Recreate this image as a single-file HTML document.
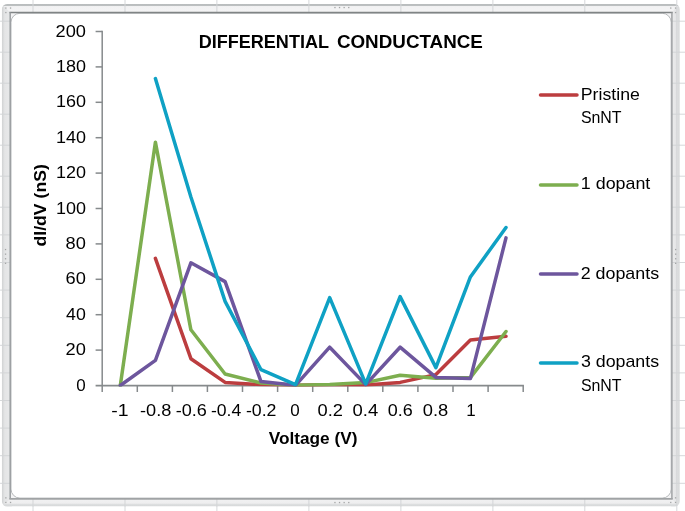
<!DOCTYPE html>
<html><head><meta charset="utf-8"><title>Differential Conductance</title>
<style>html,body{margin:0;padding:0;background:#fff;}body{width:685px;height:511px;overflow:hidden;}svg{display:block;filter:blur(0.4px);}text{font-family:"Liberation Sans",sans-serif;fill:#000000;}</style>
</head><body>
<svg width="685" height="511" viewBox="0 0 685 511">
<rect width="685" height="511" fill="#ffffff"/>
<g stroke="#d6d8da" stroke-width="1">
<line x1="33.0" y1="0" x2="33.0" y2="511"/>
<line x1="125.0" y1="0" x2="125.0" y2="511"/>
<line x1="216.9" y1="0" x2="216.9" y2="511"/>
<line x1="308.9" y1="0" x2="308.9" y2="511"/>
<line x1="400.9" y1="0" x2="400.9" y2="511"/>
<line x1="492.9" y1="0" x2="492.9" y2="511"/>
<line x1="584.8" y1="0" x2="584.8" y2="511"/>
<line x1="676.8" y1="0" x2="676.8" y2="511"/>
<line x1="0" y1="21.2" x2="685" y2="21.2"/>
<line x1="0" y1="52.2" x2="685" y2="52.2"/>
<line x1="0" y1="83.2" x2="685" y2="83.2"/>
<line x1="0" y1="114.2" x2="685" y2="114.2"/>
<line x1="0" y1="145.2" x2="685" y2="145.2"/>
<line x1="0" y1="176.2" x2="685" y2="176.2"/>
<line x1="0" y1="207.2" x2="685" y2="207.2"/>
<line x1="0" y1="234.9" x2="685" y2="234.9"/>
<line x1="0" y1="262.5" x2="685" y2="262.5"/>
<line x1="0" y1="290.1" x2="685" y2="290.1"/>
<line x1="0" y1="317.7" x2="685" y2="317.7"/>
<line x1="0" y1="345.3" x2="685" y2="345.3"/>
<line x1="0" y1="372.9" x2="685" y2="372.9"/>
<line x1="0" y1="400.5" x2="685" y2="400.5"/>
<line x1="0" y1="428.1" x2="685" y2="428.1"/>
<line x1="0" y1="455.7" x2="685" y2="455.7"/>
<line x1="0" y1="483.3" x2="685" y2="483.3"/>
</g>
<defs>
<linearGradient id="gl" x1="0" x2="1" y1="0" y2="0"><stop offset="0" stop-color="#cfd1d2"/><stop offset="0.3" stop-color="#e4e5e6"/><stop offset="1" stop-color="#e9eaeb"/></linearGradient>
<linearGradient id="gr" x1="0" x2="1" y1="0" y2="0"><stop offset="0" stop-color="#eeeeef"/><stop offset="0.6" stop-color="#e4e5e6"/><stop offset="1" stop-color="#d4d6d7"/></linearGradient>
<linearGradient id="gt" x1="0" x2="0" y1="0" y2="1"><stop offset="0" stop-color="#b9bdbe"/><stop offset="0.22" stop-color="#bdc0c1"/><stop offset="0.3" stop-color="#f2f2f3"/><stop offset="1" stop-color="#f4f4f5"/></linearGradient>
<linearGradient id="gb" x1="0" x2="0" y1="0" y2="1"><stop offset="0" stop-color="#f1f1f2"/><stop offset="0.55" stop-color="#eeeeef"/><stop offset="0.75" stop-color="#dadcdd"/><stop offset="1" stop-color="#d6d8d9"/></linearGradient>
<clipPath id="cf"><rect x="1.8" y="4" width="678" height="502.6" rx="5.5" ry="5.5"/></clipPath>
</defs>
<g clip-path="url(#cf)">
<rect x="1.8" y="4" width="10" height="503" fill="url(#gl)"/>
<rect x="671" y="4" width="8.8" height="503" fill="url(#gr)"/>
<polygon points="1.8,4 679.8,4 671.5,12.4 10.2,12.4" fill="url(#gt)"/>
<polygon points="10.2,498.9 671.5,498.9 679.8,506.6 1.8,506.6" fill="url(#gb)"/>
</g>
<g stroke="#d3d5d7" stroke-width="1" clip-path="url(#cf)">
<line x1="33.0" y1="0" x2="33.0" y2="511"/>
<line x1="125.0" y1="0" x2="125.0" y2="511"/>
<line x1="216.9" y1="0" x2="216.9" y2="511"/>
<line x1="308.9" y1="0" x2="308.9" y2="511"/>
<line x1="400.9" y1="0" x2="400.9" y2="511"/>
<line x1="492.9" y1="0" x2="492.9" y2="511"/>
<line x1="584.8" y1="0" x2="584.8" y2="511"/>
<line x1="676.8" y1="0" x2="676.8" y2="511"/>
<line x1="0" y1="21.2" x2="685" y2="21.2"/>
<line x1="0" y1="52.2" x2="685" y2="52.2"/>
<line x1="0" y1="83.2" x2="685" y2="83.2"/>
<line x1="0" y1="114.2" x2="685" y2="114.2"/>
<line x1="0" y1="145.2" x2="685" y2="145.2"/>
<line x1="0" y1="176.2" x2="685" y2="176.2"/>
<line x1="0" y1="207.2" x2="685" y2="207.2"/>
<line x1="0" y1="234.9" x2="685" y2="234.9"/>
<line x1="0" y1="262.5" x2="685" y2="262.5"/>
<line x1="0" y1="290.1" x2="685" y2="290.1"/>
<line x1="0" y1="317.7" x2="685" y2="317.7"/>
<line x1="0" y1="345.3" x2="685" y2="345.3"/>
<line x1="0" y1="372.9" x2="685" y2="372.9"/>
<line x1="0" y1="400.5" x2="685" y2="400.5"/>
<line x1="0" y1="428.1" x2="685" y2="428.1"/>
<line x1="0" y1="455.7" x2="685" y2="455.7"/>
<line x1="0" y1="483.3" x2="685" y2="483.3"/>
</g>
<rect x="10.2" y="12.4" width="661.7" height="486.5" fill="#f3f3f4"/>
<rect x="11" y="13.3" width="660.2" height="484.8" rx="9" ry="9" fill="#ffffff" stroke="#aeb1b3" stroke-width="0.9"/>
<line x1="9.4" y1="12.5" x2="672.7" y2="12.5" stroke="#808485" stroke-width="1.5"/>
<line x1="10.2" y1="12.4" x2="10.2" y2="499" stroke="#9a9ea1" stroke-width="1.5"/>
<line x1="671.9" y1="12.4" x2="671.9" y2="499" stroke="#a0a3a5" stroke-width="1.5"/>
<line x1="9.4" y1="498.9" x2="672.7" y2="498.9" stroke="#a0a3a5" stroke-width="1.6"/>
<g fill="#a3a5a6">
<rect x="5.2" y="7.4" width="1.3" height="1.3"/>
<rect x="9.9" y="7.4" width="1.3" height="1.3"/>
<rect x="5.2" y="11.9" width="1.3" height="1.3"/>
<rect x="674.9" y="7.4" width="1.3" height="1.3"/>
<rect x="670.1" y="7.4" width="1.3" height="1.3"/>
<rect x="674.9" y="11.9" width="1.3" height="1.3"/>
<rect x="5.2" y="501.8" width="1.3" height="1.3"/>
<rect x="9.9" y="501.8" width="1.3" height="1.3"/>
<rect x="5.2" y="497.2" width="1.3" height="1.3"/>
<rect x="674.9" y="501.8" width="1.3" height="1.3"/>
<rect x="670.1" y="501.8" width="1.3" height="1.3"/>
<rect x="674.9" y="497.2" width="1.3" height="1.3"/>
<rect x="334.3" y="6.9" width="1.3" height="1.3"/>
<rect x="334.3" y="501.9" width="1.3" height="1.3"/>
<rect x="4.9" y="248.9" width="1.3" height="1.3"/>
<rect x="675" y="248.9" width="1.3" height="1.3"/>
<rect x="338.9" y="6.9" width="1.3" height="1.3"/>
<rect x="338.9" y="501.9" width="1.3" height="1.3"/>
<rect x="4.9" y="253.5" width="1.3" height="1.3"/>
<rect x="675" y="253.5" width="1.3" height="1.3"/>
<rect x="343.5" y="6.9" width="1.3" height="1.3"/>
<rect x="343.5" y="501.9" width="1.3" height="1.3"/>
<rect x="4.9" y="258.1" width="1.3" height="1.3"/>
<rect x="675" y="258.1" width="1.3" height="1.3"/>
<rect x="348.1" y="6.9" width="1.3" height="1.3"/>
<rect x="348.1" y="501.9" width="1.3" height="1.3"/>
<rect x="4.9" y="262.7" width="1.3" height="1.3"/>
<rect x="675" y="262.7" width="1.3" height="1.3"/>
</g>
<g stroke="#868a8c" stroke-width="1.5" fill="none">
<line x1="102.2" y1="30.8" x2="102.2" y2="392"/>
<line x1="95.6" y1="385.6" x2="523.9" y2="385.6" stroke-width="1.6"/>
<line x1="95.6" y1="350.1" x2="102.2" y2="350.1"/>
<line x1="95.6" y1="314.7" x2="102.2" y2="314.7"/>
<line x1="95.6" y1="279.3" x2="102.2" y2="279.3"/>
<line x1="95.6" y1="243.9" x2="102.2" y2="243.9"/>
<line x1="95.6" y1="208.5" x2="102.2" y2="208.5"/>
<line x1="95.6" y1="173.1" x2="102.2" y2="173.1"/>
<line x1="95.6" y1="137.7" x2="102.2" y2="137.7"/>
<line x1="95.6" y1="102.3" x2="102.2" y2="102.3"/>
<line x1="95.6" y1="66.9" x2="102.2" y2="66.9"/>
<line x1="95.6" y1="31.5" x2="102.2" y2="31.5"/>
<line x1="137.3" y1="385.5" x2="137.3" y2="392"/>
<line x1="172.4" y1="385.5" x2="172.4" y2="392"/>
<line x1="207.4" y1="385.5" x2="207.4" y2="392"/>
<line x1="242.5" y1="385.5" x2="242.5" y2="392"/>
<line x1="277.6" y1="385.5" x2="277.6" y2="392"/>
<line x1="312.7" y1="385.5" x2="312.7" y2="392"/>
<line x1="347.8" y1="385.5" x2="347.8" y2="392"/>
<line x1="382.8" y1="385.5" x2="382.8" y2="392"/>
<line x1="417.9" y1="385.5" x2="417.9" y2="392"/>
<line x1="453.0" y1="385.5" x2="453.0" y2="392"/>
<line x1="488.1" y1="385.5" x2="488.1" y2="392"/>
<line x1="523.2" y1="385.5" x2="523.2" y2="392"/>
</g>
<clipPath id="cp"><rect x="90" y="20" width="450" height="366.4"/></clipPath>
<g clip-path="url(#cp)">
<polyline points="155.4,258.3 190.9,358.7 225.1,382.4 261.0,384.6 295.5,385.3 329.7,384.8 365.7,385.0 400.1,382.4 435.9,374.6 470.4,340.1 506.0,336.3" fill="none" stroke="#bc3d3f" stroke-width="3.5" stroke-linejoin="round" stroke-linecap="round"/>
<polyline points="120.3,385.5 155.4,142.2 190.9,329.8 225.1,374.0 261.0,383.0 295.5,385.3 329.7,384.5 365.7,382.6 400.1,375.2 435.9,378.2 470.4,377.6 506.0,331.5" fill="none" stroke="#7dae4f" stroke-width="3.5" stroke-linejoin="round" stroke-linecap="round"/>
<polyline points="120.3,385.5 155.4,360.4 190.9,262.8 225.1,281.6 261.0,381.6 295.5,385.3 329.7,347.2 365.7,384.6 400.1,347.2 435.9,377.4 470.4,378.6 506.0,237.9" fill="none" stroke="#6d569d" stroke-width="3.5" stroke-linejoin="round" stroke-linecap="round"/>
<polyline points="155.4,78.6 190.9,197.0 225.1,301.4 261.0,369.7 295.5,384.6 329.7,297.6 365.7,383.8 400.1,296.6 435.9,367.6 470.4,276.9 506.0,227.5" fill="none" stroke="#0fa1c4" stroke-width="3.5" stroke-linejoin="round" stroke-linecap="round"/>
</g>
<text x="76.23" y="390.50" font-size="17" textLength="9.45" lengthAdjust="spacingAndGlyphs">0</text>
<text x="65.60" y="355.10" font-size="17" textLength="20.33" lengthAdjust="spacingAndGlyphs">20</text>
<text x="66.10" y="319.70" font-size="17" textLength="19.76" lengthAdjust="spacingAndGlyphs">40</text>
<text x="65.60" y="284.30" font-size="17" textLength="20.33" lengthAdjust="spacingAndGlyphs">60</text>
<text x="65.60" y="248.90" font-size="17" textLength="20.31" lengthAdjust="spacingAndGlyphs">80</text>
<text x="55.95" y="213.50" font-size="17" textLength="30.00" lengthAdjust="spacingAndGlyphs">100</text>
<text x="55.95" y="178.10" font-size="17" textLength="30.00" lengthAdjust="spacingAndGlyphs">120</text>
<text x="55.95" y="142.70" font-size="17" textLength="30.00" lengthAdjust="spacingAndGlyphs">140</text>
<text x="55.95" y="107.30" font-size="17" textLength="30.00" lengthAdjust="spacingAndGlyphs">160</text>
<text x="55.95" y="71.90" font-size="17" textLength="30.00" lengthAdjust="spacingAndGlyphs">180</text>
<text x="55.50" y="36.50" font-size="17" textLength="30.39" lengthAdjust="spacingAndGlyphs">200</text>
<text x="111.30" y="416.00" font-size="17" textLength="17.31" lengthAdjust="spacingAndGlyphs">-1</text>
<text x="140.05" y="416.00" font-size="17" textLength="31.32" lengthAdjust="spacingAndGlyphs">-0.8</text>
<text x="175.75" y="416.00" font-size="17" textLength="31.12" lengthAdjust="spacingAndGlyphs">-0.6</text>
<text x="210.90" y="416.00" font-size="17" textLength="30.35" lengthAdjust="spacingAndGlyphs">-0.4</text>
<text x="245.90" y="416.00" font-size="17" textLength="30.59" lengthAdjust="spacingAndGlyphs">-0.2</text>
<text x="290.27" y="416.00" font-size="17" textLength="9.45" lengthAdjust="spacingAndGlyphs">0</text>
<text x="317.60" y="416.00" font-size="17" textLength="25.41" lengthAdjust="spacingAndGlyphs">0.2</text>
<text x="352.60" y="416.00" font-size="17" textLength="25.66" lengthAdjust="spacingAndGlyphs">0.4</text>
<text x="387.70" y="416.00" font-size="17" textLength="24.98" lengthAdjust="spacingAndGlyphs">0.6</text>
<text x="422.75" y="416.00" font-size="17" textLength="25.46" lengthAdjust="spacingAndGlyphs">0.8</text>
<text x="466.35" y="416.00" font-size="17" textLength="9.45" lengthAdjust="spacingAndGlyphs">1</text>
<text font-size="18.6" font-weight="bold"><tspan x="198.70" y="47.50" textLength="129.97" lengthAdjust="spacingAndGlyphs">DIFFERENTIAL</tspan> <tspan x="336.90" y="47.50" textLength="146.02" lengthAdjust="spacingAndGlyphs">CONDUCTANCE</tspan></text>
<text x="268.75" y="443.70" font-size="15.6" font-weight="bold" textLength="88.66" lengthAdjust="spacingAndGlyphs">Voltage (V)</text>
<text transform="translate(45.80,246.45) rotate(-90)" font-size="15.8" font-weight="bold" textLength="82.22" lengthAdjust="spacingAndGlyphs">dI/dV (nS)</text>
<text x="580.80" y="99.60" font-size="16.6" textLength="59.03" lengthAdjust="spacingAndGlyphs">Pristine</text>
<text x="580.90" y="122.80" font-size="16.6" textLength="40.68" lengthAdjust="spacingAndGlyphs">SnNT</text>
<text x="580.80" y="189.40" font-size="16.6" textLength="69.53" lengthAdjust="spacingAndGlyphs">1 dopant</text>
<text x="580.65" y="278.90" font-size="16.6" textLength="78.49" lengthAdjust="spacingAndGlyphs">2 dopants</text>
<text x="580.90" y="367.20" font-size="16.6" textLength="78.23" lengthAdjust="spacingAndGlyphs">3 dopants</text>
<text x="580.90" y="390.60" font-size="16.6" textLength="40.68" lengthAdjust="spacingAndGlyphs">SnNT</text>
<g stroke-width="3.5" stroke-linecap="round">
<line x1="540.5" y1="95.0" x2="577.0" y2="95.0" stroke="#bc3d3f"/>
<line x1="540.5" y1="184.9" x2="577.0" y2="184.9" stroke="#7dae4f"/>
<line x1="540.5" y1="274.0" x2="577.0" y2="274.0" stroke="#6d569d"/>
<line x1="540.5" y1="363.0" x2="577.0" y2="363.0" stroke="#0fa1c4"/>
</g>
</svg>
</body></html>
